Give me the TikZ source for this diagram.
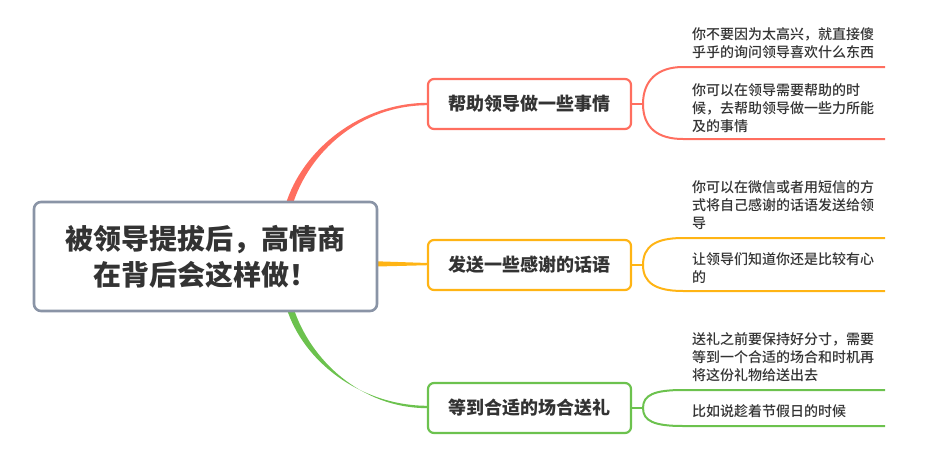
\documentclass[tikz,border=0pt]{standalone}
\usepackage{fontspec}
\setmainfont{Noto Sans CJK SC}
\newfontfamily\submedium{Noto Sans CJK SC Medium}
\usetikzlibrary{calc}
\definecolor{cred}{RGB}{255,110,95}
\definecolor{corange}{RGB}{255,180,20}
\definecolor{cgreen}{RGB}{108,194,78}
\definecolor{cgray}{RGB}{138,148,166}
\definecolor{ctext}{RGB}{51,51,51}
\tikzset{
  rootbox/.style={draw=cgray, line width=2.6pt, rounded corners=7pt, fill=white,
    minimum width=343pt, minimum height=109pt, inner sep=0pt, align=center,
    text=ctext, font=\fontsize{28}{36}\selectfont\bfseries},
  branchbox/.style={line width=2.2pt, rounded corners=6pt, fill=white,
    minimum width=203pt, minimum height=50pt, inner sep=0pt,
    text=ctext, font=\fontsize{18}{20}\selectfont\bfseries},
  subtext/.style={anchor=base west, inner sep=0pt, text=ctext,
    font=\submedium\fontsize{14}{18}\selectfont},
  subline/.style={line width=2pt},
}
\begin{document}
\begin{tikzpicture}[x=1pt,y=-1pt]
\useasboundingbox (0,0) rectangle (952,460);

% tapered main connectors (drawn under the boxes)
\fill[cred] (285.5,205) .. controls (302,150) and (360,102.8) .. (428,102.8)
  -- (428,105.2) .. controls (360,105.2) and (309,152) .. (292.5,205) -- cycle;
\fill[corange] (377,261.3) -- (428,263) -- (428,265.2) -- (377,266.5) -- cycle;
\fill[cgreen] (286.5,308) .. controls (303,361) and (360,405.8) .. (428,405.8)
  -- (428,408.2) .. controls (360,408.2) and (310,359) .. (293.5,308) -- cycle;

% root and branches
\node[rootbox] (root) at (205.5,256.5) {被领导提拔后，高情商\\在背后会这样做！};
\node[branchbox, draw=cred] (b1) at (529.5,104) {帮助领导做一些事情};
\node[branchbox, draw=corange] (b2) at (529.5,265) {发送一些感谢的话语};
\node[branchbox, draw=cgreen] (b3) at (529.5,408) {等到合适的场合送礼};

% branch 1 children
\coordinate (j1) at (643,104);
\coordinate (c1u) at (683,67);
\coordinate (e1u) at (885,67);
\coordinate (c1l) at (683,139);
\coordinate (e1l) at (885,139);
\draw[subline, cred] (b1.east) -- (j1);
\draw[subline, cred] (j1) .. controls (643,80) and (658,67) .. (c1u) -- (e1u);
\draw[subline, cred] (j1) .. controls (643,128) and (658,139) .. (c1l) -- (e1l);
\node[subtext] (t1a) at (692,40) {你不要因为太高兴，就直接傻};
\node[subtext] (t1b) at (692,58) {乎乎的询问领导喜欢什么东西};
\node[subtext] (t2a) at (692,95) {你可以在领导需要帮助的时};
\node[subtext] (t2b) at (692,113) {候，去帮助领导做一些力所能};
\node[subtext] (t2c) at (692,131) {及的事情};

% branch 2 children
\coordinate (j2) at (643,265);
\coordinate (c2u) at (683,238);
\coordinate (e2u) at (885,238);
\coordinate (c2l) at (683,291);
\coordinate (e2l) at (885,291);
\draw[subline, corange] (b2.east) -- (j2);
\draw[subline, corange] (j2) .. controls (643,246) and (656,238) .. (c2u) -- (e2u);
\draw[subline, corange] (j2) .. controls (643,283) and (656,291) .. (c2l) -- (e2l);
\node[subtext] (t3a) at (692,192) {你可以在微信或者用短信的方};
\node[subtext] (t3b) at (692,210) {式将自己感谢的话语发送给领};
\node[subtext] (t3c) at (692,228) {导};
\node[subtext] (t4a) at (692,264) {让领导们知道你还是比较有心};
\node[subtext] (t4b) at (692,282) {的};

% branch 3 children
\coordinate (j3) at (643,408);
\coordinate (c3u) at (683,390);
\coordinate (e3u) at (885,390);
\coordinate (c3l) at (683,426);
\coordinate (e3l) at (885,426);
\draw[subline, cgreen] (b3.east) -- (j3);
\draw[subline, cgreen] (j3) .. controls (643,395) and (654,390) .. (c3u) -- (e3u);
\draw[subline, cgreen] (j3) .. controls (643,421) and (654,426) .. (c3l) -- (e3l);
\node[subtext] (t5a) at (692,344) {送礼之前要保持好分寸，需要};
\node[subtext] (t5b) at (692,362) {等到一个合适的场合和时机再};
\node[subtext] (t5c) at (692,380) {将这份礼物给送出去};
\node[subtext] (t6a) at (692,416) {比如说趁着节假日的时候};
\end{tikzpicture}
\end{document}
